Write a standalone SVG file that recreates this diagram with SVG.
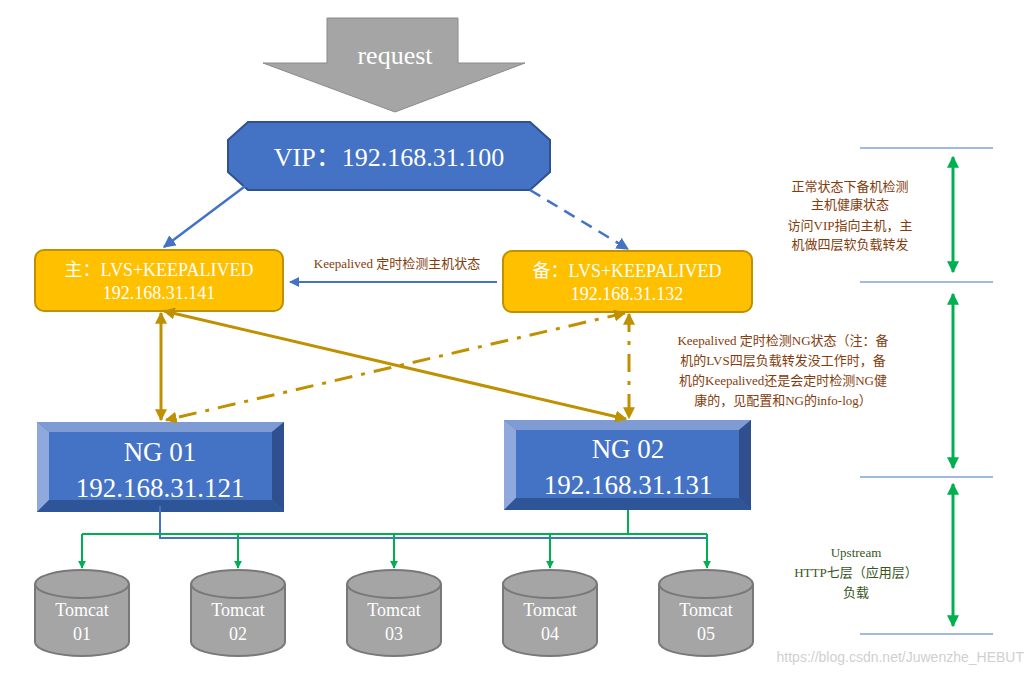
<svg xmlns="http://www.w3.org/2000/svg" width="1034" height="675" viewBox="0 0 1034 675">
<style>
.w{fill:#fff;font-family:"Liberation Serif","Noto Sans CJK SC",serif;text-anchor:middle}
.b{fill:#843C0C;font-family:"Liberation Serif","Noto Sans CJK SC",serif;font-size:13px;text-anchor:middle}
.g{fill:#375623;font-family:"Liberation Serif","Noto Sans CJK SC",serif;font-size:13px;text-anchor:middle}
.lvs{fill:#FFC000;stroke:#BF9000;stroke-width:2}
.gold{stroke:#BF9000;stroke-width:3;fill:none}
.cyl{fill:#A5A5A5;stroke:#787878;stroke-width:2}
.hl{stroke:#4472C4;stroke-width:1}
</style>
<defs>
<marker id="ga" viewBox="0 0 10 10" refX="9" refY="5" markerWidth="4" markerHeight="4" orient="auto-start-reverse"><path d="M0,0L10,5L0,10z" fill="#BF9000"/></marker>
<marker id="ba" viewBox="0 0 10 10" refX="9" refY="5" markerWidth="5" markerHeight="5" orient="auto"><path d="M0,0L10,5L0,10z" fill="#4472C4"/></marker>
<marker id="gr" viewBox="0 0 10 10" refX="9" refY="5" markerWidth="4" markerHeight="4" orient="auto-start-reverse"><path d="M0,0L10,5L0,10z" fill="#00B050"/></marker>
</defs>
<rect width="1034" height="675" fill="#fff"/>
<g id="request">
<path d="M327,18H458V63H525L395,112L263,63H327Z" fill="#A5A5A5" stroke="#8a8a8a"/>
<text class="w" x="395" y="64" font-size="26">request</text>
</g>
<g id="vip">
<path d="M248,122H530L550,140V172L530,190H248L228,172V140Z" fill="#4472C4" stroke="#2F528F" stroke-width="2"/>
<text class="w" x="389" y="166" font-size="26">VIP：192.168.31.100</text>
</g>
<g id="master">
<rect class="lvs" x="35" y="250" width="248" height="61" rx="9"/>
<text class="w" x="159" y="276" font-size="18">主：LVS+KEEPALIVED</text>
<text class="w" x="159" y="299" font-size="18">192.168.31.141</text>
</g>
<g id="backup">
<rect class="lvs" x="503" y="251" width="249" height="61" rx="9"/>
<text class="w" x="627" y="277" font-size="18">备：LVS+KEEPALIVED</text>
<text class="w" x="627" y="300" font-size="18">192.168.31.132</text>
</g>
<g id="ng01">
<rect x="37" y="422" width="247" height="90" fill="#4472C4"/>
<path d="M37,422H284L272,432H49Z" fill="#7F9BD4"/>
<path d="M37,422V512L49,500V432Z" fill="#8FA9DC"/>
<path d="M284,422V512L272,500V432Z" fill="#2F4F8F"/>
<path d="M37,512H284L272,500H49Z" fill="#2E5597"/>
<text class="w" x="160" y="461" font-size="27">NG 01</text>
<text class="w" x="160" y="497" font-size="27">192.168.31.121</text>
</g>
<g id="ng02">
<rect x="504" y="420" width="247" height="90" fill="#4472C4"/>
<path d="M504,420H751L739,430H516Z" fill="#7F9BD4"/>
<path d="M504,420V510L516,498V430Z" fill="#8FA9DC"/>
<path d="M751,420V510L739,498V430Z" fill="#2F4F8F"/>
<path d="M504,510H751L739,498H516Z" fill="#2E5597"/>
<text class="w" x="628" y="458" font-size="27">NG 02</text>
<text class="w" x="628" y="494" font-size="27">192.168.31.131</text>
</g>
<g id="tomcats">
<g id="t1"><path class="cyl" d="M35,584V642A47,14 0 0 0 129,642V584"/><ellipse class="cyl" cx="82" cy="584" rx="47" ry="14"/><text class="w" x="82" y="616" font-size="18">Tomcat</text><text class="w" x="82" y="640" font-size="18">01</text></g>
<g id="t2"><path class="cyl" d="M191,584V642A47,14 0 0 0 285,642V584"/><ellipse class="cyl" cx="238" cy="584" rx="47" ry="14"/><text class="w" x="238" y="616" font-size="18">Tomcat</text><text class="w" x="238" y="640" font-size="18">02</text></g>
<g id="t3"><path class="cyl" d="M347,584V642A47,14 0 0 0 441,642V584"/><ellipse class="cyl" cx="394" cy="584" rx="47" ry="14"/><text class="w" x="394" y="616" font-size="18">Tomcat</text><text class="w" x="394" y="640" font-size="18">03</text></g>
<g id="t4"><path class="cyl" d="M503,584V642A47,14 0 0 0 597,642V584"/><ellipse class="cyl" cx="550" cy="584" rx="47" ry="14"/><text class="w" x="550" y="616" font-size="18">Tomcat</text><text class="w" x="550" y="640" font-size="18">04</text></g>
<g id="t5"><path class="cyl" d="M659,584V642A47,14 0 0 0 753,642V584"/><ellipse class="cyl" cx="706" cy="584" rx="47" ry="14"/><text class="w" x="706" y="616" font-size="18">Tomcat</text><text class="w" x="706" y="640" font-size="18">05</text></g>
</g>
<g id="connectors">
<line x1="248" y1="184" x2="164" y2="247" stroke="#4472C4" stroke-width="2.5" marker-end="url(#ba)"/>
<line x1="530" y1="190" x2="628" y2="249" stroke="#4472C4" stroke-width="2.5" stroke-dasharray="12,8" marker-end="url(#ba)"/>
<line x1="497" y1="282" x2="290" y2="282" stroke="#4472C4" stroke-width="2" marker-end="url(#ba)"/>
<line class="gold" x1="161" y1="313" x2="161" y2="420" marker-start="url(#ga)" marker-end="url(#ga)"/>
<line class="gold" x1="164" y1="311" x2="626" y2="419" marker-start="url(#ga)" marker-end="url(#ga)"/>
<line class="gold" x1="625" y1="313" x2="166" y2="420" stroke-dasharray="18,9,4,9" marker-start="url(#ga)" marker-end="url(#ga)"/>
<line class="gold" x1="629" y1="314" x2="629" y2="418" stroke-dasharray="18,9,4,9" marker-start="url(#ga)" marker-end="url(#ga)"/>
<polyline points="160,506 160,538 707,538" fill="none" stroke="#4472C4" stroke-width="2"/>
<polyline points="628,510 628,534 82,534" fill="none" stroke="#00B050" stroke-width="2"/>
<line x1="707" y1="534" x2="628" y2="534" stroke="#00B050" stroke-width="2"/>
<g stroke="#00B050" stroke-width="2" marker-end="url(#gr)">
<line x1="82" y1="534" x2="82" y2="568"/><line x1="238" y1="534" x2="238" y2="568"/><line x1="394" y1="534" x2="394" y2="568"/><line x1="550" y1="534" x2="550" y2="568"/><line x1="707" y1="534" x2="707" y2="568"/>
</g>
<g class="hl"><line x1="860" y1="148" x2="993" y2="148"/><line x1="860" y1="282" x2="993" y2="282"/><line x1="860" y1="477" x2="993" y2="477"/><line x1="860" y1="634" x2="993" y2="634"/></g>
<g stroke="#00B050" stroke-width="3" marker-start="url(#gr)" marker-end="url(#gr)">
<line x1="953" y1="157" x2="953" y2="272"/><line x1="953" y1="294" x2="953" y2="468"/><line x1="953" y1="484" x2="953" y2="626"/>
</g>
</g>
<g id="labels">
<text class="b" x="397" y="268" font-size="12">Keepalived 定时检测主机状态</text>
<text class="b" x="850" y="191">正常状态下备机检测</text>
<text class="b" x="850" y="209">主机健康状态</text>
<text class="b" x="850" y="230">访问VIP指向主机，主</text>
<text class="b" x="850" y="249">机做四层软负载转发</text>
<text class="b" x="783" y="345">Keepalived 定时检测NG状态（注：备</text>
<text class="b" x="783" y="365">机的LVS四层负载转发没工作时，备</text>
<text class="b" x="783" y="385">机的Keepalived还是会定时检测NG健</text>
<text class="b" x="783" y="405">康的，见配置和NG的info-log）</text>
<text class="g" x="856" y="557">Upstream</text>
<text class="g" x="856" y="577">HTTP七层（应用层）</text>
<text class="g" x="856" y="597">负载</text>
<text x="1024" y="662" font-family="Liberation Sans,sans-serif" font-size="14" fill="#d0d0d0" text-anchor="end">https://blog.csdn.net/Juwenzhe_HEBUT</text>
</g>
</svg>
